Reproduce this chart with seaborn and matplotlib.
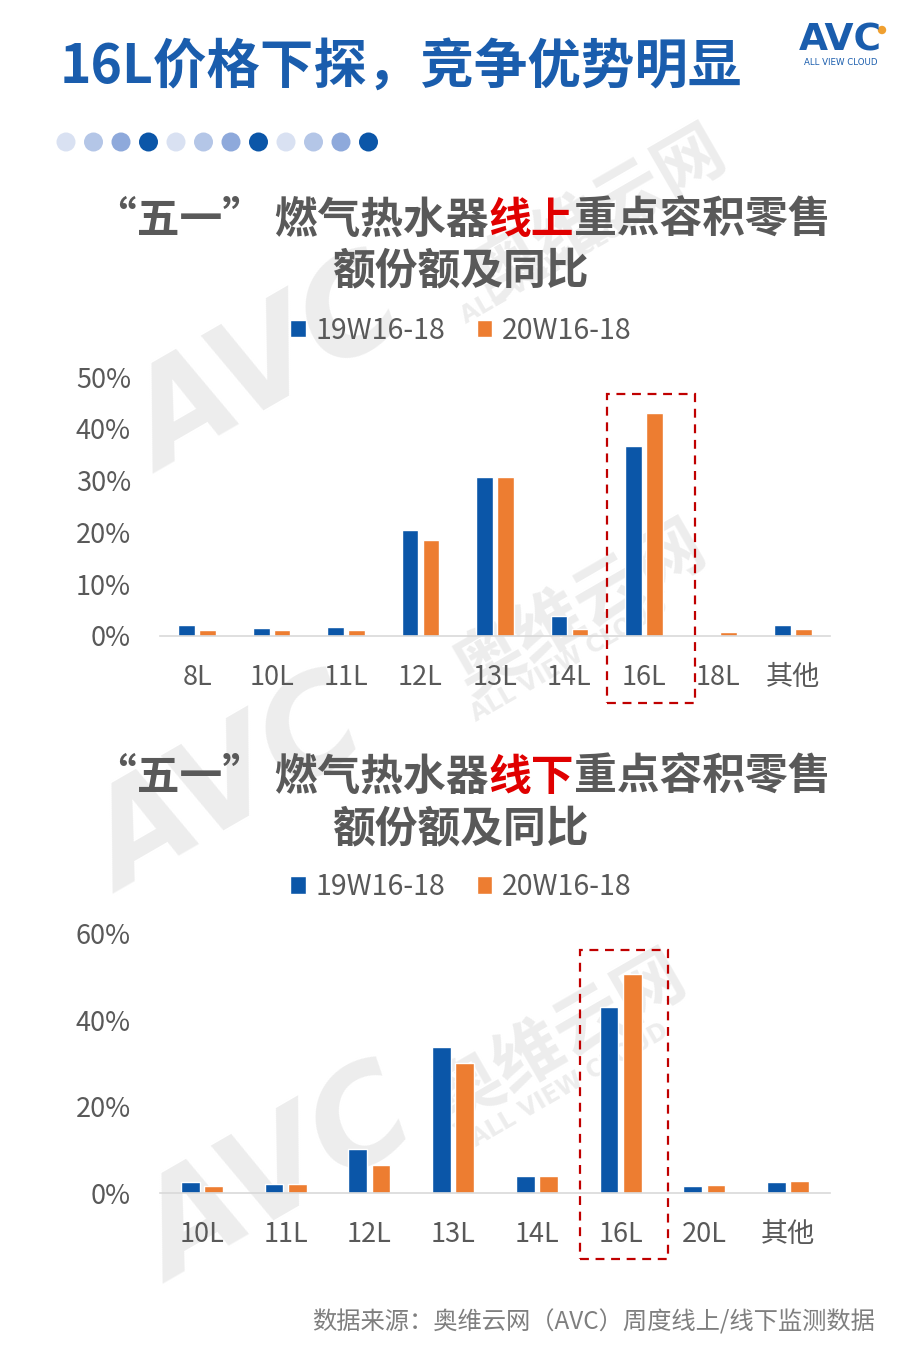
import numpy as np
import pandas as pd
import matplotlib
matplotlib.use('Agg')
import matplotlib.pyplot as plt
import seaborn as sns
from matplotlib.patches import Rectangle, Circle
from matplotlib.offsetbox import TextArea, HPacker, AnnotationBbox

sns.set_theme(style='white')
plt.rcParams['font.family'] = ['Noto Sans CJK SC', 'DejaVu Sans']

# ---------------- data ----------------
series = ['19W16-18', '20W16-18']

online_cats = ['8L', '10L', '11L', '12L', '13L', '14L', '16L', '18L', '其他']
online_19 = [2.1, 1.6, 1.7, 20.5, 30.6, 3.9, 36.7, 0.0, 2.1]
online_20 = [1.2, 1.2, 1.2, 18.5, 30.6, 1.4, 43.1, 0.8, 1.4]
online_ticks = [0, 10, 20, 30, 40, 50]

offline_cats = ['10L', '11L', '12L', '13L', '14L', '16L', '20L', '其他']
offline_19 = [2.6, 2.2, 10.2, 33.9, 4.0, 43.1, 1.8, 2.6]
offline_20 = [1.8, 2.2, 6.6, 30.2, 4.0, 50.8, 1.9, 2.8]
offline_ticks = [0, 20, 40, 60]

main_title = '16L价格下探，竞争优势明显'
title1 = [('“五一” 燃气热水器', 'gray'), ('线上', 'red'), ('重点容积零售', 'gray')]
title2 = [('“五一” 燃气热水器', 'gray'), ('线下', 'red'), ('重点容积零售', 'gray')]
title_line2 = '额份额及同比'
source = '数据来源：奥维云网（AVC）周度线上/线下监测数据'

# ---------------- style ----------------
BLUE = '#0B56A8'
ORANGE = '#ED7D31'
GRAY = '#595959'
RED = '#E00000'
TITLE_BLUE = '#1A5DAD'
W, H = 907, 1361

fig = plt.figure(figsize=(W / 100, H / 100), dpi=100)
fig.patch.set_facecolor('white')

# overlay axes in pixel coordinates for decorations
ov = fig.add_axes([0, 0, 1, 1], zorder=-1)
ov.set_xlim(0, W)
ov.set_ylim(H, 0)
ov.axis('off')
ov.patch.set_alpha(0)

# watermark
wm = '#EDEDED'
for (ax_, ay_), (cx, cy), (lx, ly) in [((270, 370), (600, 215), (560, 262)),
                                       ((230, 790), (580, 610), (570, 660)),
                                       ((280, 1180), (560, 1040), (570, 1085))]:
    ov.text(ax_, ay_, 'AVC', fontsize=95, fontweight='bold', style='italic', color=wm,
            rotation=30, ha='center', va='center', family='DejaVu Sans')
    ov.text(cx, cy, '奥维云网', fontsize=50, fontweight='bold', color=wm,
            rotation=30, ha='center', va='center')
    ov.text(lx, ly, 'ALL VIEW CLOUD', fontsize=17, fontweight='bold', color=wm,
            rotation=30, ha='center', va='center', family='DejaVu Sans')

# main title
ov.text(60, 68, main_title, fontsize=38.5, fontweight='bold', color=TITLE_BLUE,
        ha='left', va='center')

# logo
ov.text(840, 40, 'AVC', fontsize=27, fontweight='bold', color=TITLE_BLUE,
        ha='center', va='center', family='DejaVu Sans')
ov.add_patch(Circle((882, 30), 3.5, color='#F0A030'))
ov.text(841, 62, 'ALL VIEW CLOUD', fontsize=6.2, color=TITLE_BLUE,
        ha='center', va='center', family='DejaVu Sans')

# dots
dot_colors = ['#D9E1F2', '#B4C6E7', '#8EA9DB', '#0B56A8']
for i in range(12):
    ov.add_patch(Circle((66 + 27.5 * i, 142), 9.5, color=dot_colors[i % 4], lw=0))


def mixed_title(pieces, x, y):
    cmap = {'gray': GRAY, 'red': RED}
    boxes = [TextArea(t, textprops=dict(fontsize=30.8, fontweight='bold', color=cmap[c]))
             for t, c in pieces]
    pk = HPacker(children=boxes, align='baseline', pad=0, sep=0)
    ab = AnnotationBbox(pk, (x, y), xycoords='data', frameon=False,
                        box_alignment=(0.5, 0.5), pad=0)
    ov.add_artist(ab)


mixed_title(title1, 462, 220)
ov.text(460, 270, title_line2, fontsize=30.8, fontweight='bold', color=GRAY,
        ha='center', va='center')
mixed_title(title2, 462, 777)
ov.text(460, 828, title_line2, fontsize=30.8, fontweight='bold', color=GRAY,
        ha='center', va='center')

ov.text(875, 1323, source, fontsize=17.5, color='#7F7F7F', ha='right', va='center')


def make_chart(rect, cats, v19, v20, ticks, box, leg_y):
    ax = fig.add_axes(rect)
    ax.patch.set_alpha(0)
    df = pd.DataFrame({'cat': cats * 2,
                       'series': [series[0]] * len(cats) + [series[1]] * len(cats),
                       'val': list(v19) + list(v20)})
    sns.barplot(data=df, x='cat', y='val', hue='series', order=cats, hue_order=series,
                palette=[BLUE, ORANGE], saturation=1, width=0.56, gap=0.2, ax=ax)
    ax.set_ylim(ticks[0], ticks[-1])
    ax.set_xlim(-0.5, len(cats) - 0.5)
    ax.set_yticks(ticks)
    ax.set_yticklabels([f'{t}%' for t in ticks])
    ax.set_xlabel('')
    ax.set_ylabel('')
    for s in ['top', 'left', 'right']:
        ax.spines[s].set_visible(False)
    ax.spines['bottom'].set_color('#D9D9D9')
    ax.spines['bottom'].set_linewidth(1.2)
    ax.tick_params(axis='y', length=0, pad=21, labelsize=19.5, labelcolor=GRAY)
    ax.tick_params(axis='x', length=0, pad=20, labelsize=19.5, labelcolor=GRAY)
    handles, labels = ax.get_legend_handles_labels()
    ax.legend(handles, labels, loc='center', bbox_to_anchor=(0.449, leg_y), ncol=2,
              frameon=False, fontsize=20.5, handlelength=0.55, handleheight=0.55,
              handletextpad=0.35, columnspacing=1.1, labelcolor=GRAY,
              borderaxespad=0)
    x0, y0, w, h = box
    ax.add_patch(Rectangle((x0, y0), w, h, fill=False, edgecolor='#C00000',
                           lw=1.6, linestyle=(0, (4, 3)), clip_on=False))
    return ax


left = 160 / W
width = 670 / W
make_chart([left, (H - 636) / H, width, 259 / H], online_cats, online_19, online_20,
           online_ticks, (5.5, -12.9, 1.19, 59.6), 1.178)
make_chart([left, (H - 1193.3) / H, width, 259.3 / H], offline_cats, offline_19,
           offline_20, offline_ticks, (4.515, -15.2, 1.045, 71.4), 1.181)

fig.savefig('out.png', dpi=100, facecolor='white')
